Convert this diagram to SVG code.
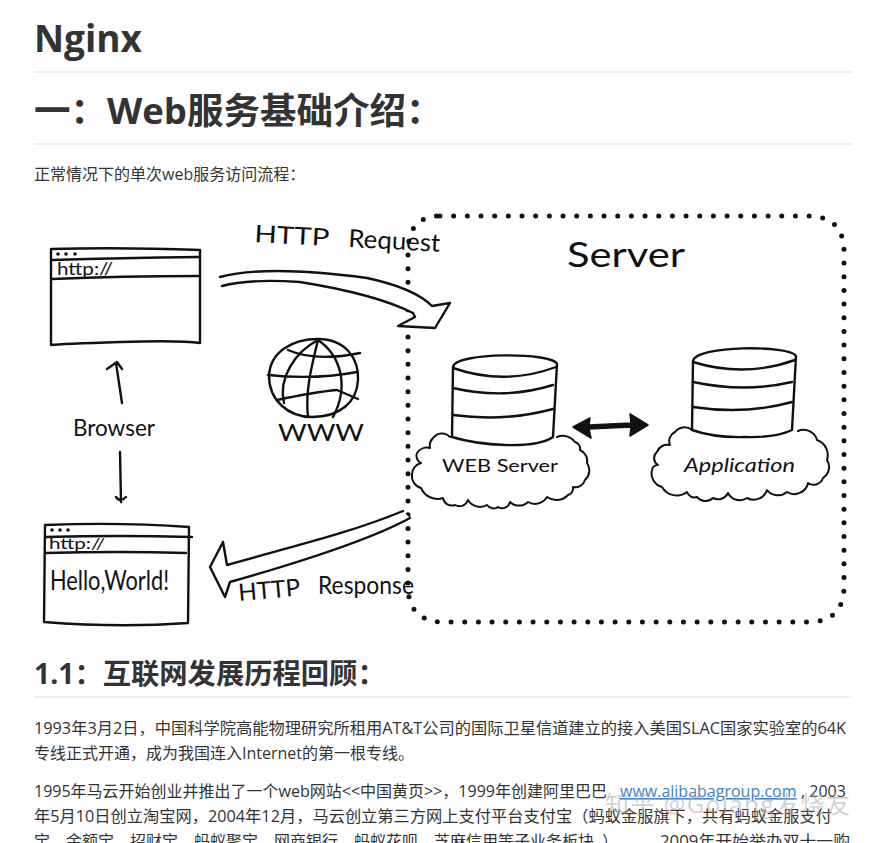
<svg xmlns="http://www.w3.org/2000/svg" width="871" height="843" viewBox="0 0 871 843">
<style>
.h{font-family:"Open Sans","Noto Sans CJK SC",sans-serif;font-weight:700;fill:#333}
.p{font-family:"Open Sans","Noto Sans CJK SC",sans-serif;font-size:16px;fill:#333}
.s{fill:none;stroke:#111;stroke-width:2.4;stroke-linecap:round;stroke-linejoin:round}
.w{fill:#fff;stroke:#111;stroke-width:2.4;stroke-linecap:round;stroke-linejoin:round}
.c{fill:#fff;stroke:#111;stroke-width:2;stroke-linecap:round;stroke-linejoin:round}
.hw{font-family:"Lato","Liberation Sans",sans-serif;fill:#111}
.rule{stroke:#eee;stroke-width:2}
</style>
<rect width="871" height="843" fill="#fff"/>
<g id="page-top">
<text class="h" x="34" y="52" font-size="37">Nginx</text>
<line class="rule" x1="34" y1="72" x2="852" y2="72"/>
<text class="h" x="34" y="124" font-size="36.5">一：Web服务基础介绍：</text>
<line class="rule" x1="34" y1="144" x2="852" y2="144"/>
<text class="p" x="34" y="180">正常情况下的单次web服务访问流程：</text>
</g>
<g id="server">
<path d="M440 216H808Q844 216 844 252V586Q844 622 808 622H444Q408 622 408 586V252Q408 216 440 216Z" fill="none" stroke="#111" stroke-width="5" stroke-linecap="round" stroke-dasharray="0 13.67"/>
<text class="hw" x="567" y="267" font-size="35" textLength="118" lengthAdjust="spacingAndGlyphs">Server</text>
</g>
<g id="browser-top">
<path class="s" d="M51 249Q120 247 200 250L200 343Q180 340 120 342T51 345Z"/>
<path class="s" d="M52 260Q120 258 199 257M52 279Q120 276 199 276"/>
<circle cx="58" cy="254" r="1.8" fill="#111"/><circle cx="66" cy="254" r="1.8" fill="#111"/><circle cx="75" cy="254" r="1.8" fill="#111"/>
<text class="hw" x="57" y="275" font-size="17" textLength="56" lengthAdjust="spacingAndGlyphs">http://</text>
</g>
<g id="browser-bottom">
<path class="s" d="M45 525Q120 522 189 527L188 623Q120 628 44 622Z"/>
<path class="s" d="M45 537Q120 535 192 537M45 553Q120 551 186 553"/>
<circle cx="52" cy="530" r="1.8" fill="#111"/><circle cx="60" cy="530" r="1.8" fill="#111"/><circle cx="68" cy="530" r="1.8" fill="#111"/>
<text class="hw" x="49" y="549" font-size="16" textLength="56" lengthAdjust="spacingAndGlyphs">http://</text>
<text class="hw" x="50" y="590" font-size="26" textLength="119" lengthAdjust="spacingAndGlyphs">Hello,World!</text>
</g>
<g id="browser-label">
<text class="hw" x="73" y="436" font-size="23" textLength="82" lengthAdjust="spacingAndGlyphs">Browser</text>
</g>
<g id="www">
<path class="s" d="M269 376C270 352 292 339 318 339C345 339 359 358 358 380C357 402 340 417 312 417C288 417 269 400 269 376Z"/>
<path class="s" d="M288 350Q315 362 360 353M268 375Q315 380 357 372M277 400Q315 392 337 390L358 399"/>
<path class="s" d="M318 340C295 352 278 378 284 403M318 340C312 365 305 390 308 417M318 340C340 355 350 385 333 417"/>
<text class="hw" x="278" y="441" font-size="24" textLength="86" lengthAdjust="spacingAndGlyphs">WWW</text>
</g>
<g id="web-server">
<path class="c" d="M450 437A11 11 0 0 0 433 438A11 11 0 0 0 430 448A12 12 0 0 0 417 453A8 8 0 0 0 421 463A12 12 0 0 0 412 475A12 12 0 0 0 421 488A18 18 0 0 0 443 498A9 9 0 0 0 455 505A9 9 0 0 0 468 500A14 14 0 0 0 487 505A8 8 0 0 0 498 507A8 8 0 0 0 510 502A13 13 0 0 0 528 502A14 14 0 0 0 547 497A16 16 0 0 0 568 495A7 7 0 0 0 573 487A10 10 0 0 0 585 480A13 13 0 0 0 587 463A12 12 0 0 0 580 450A7 7 0 0 0 575 442A15 15 0 0 0 557 437"/>
<path class="w" d="M452 437L453 367C455 352 552 352 557 364L553 437Q540 446 505 445Q475 444 452 437Z"/>
<path class="s" d="M453 368Q505 386 556 367M453 388Q505 400 553 385M453 415Q505 422 553 409"/>
<text class="hw" x="442" y="472" font-size="18" textLength="116" lengthAdjust="spacingAndGlyphs">WEB Server</text>
</g>
<g id="application">
<path class="c" d="M692 430A12 12 0 0 0 675 432A10 10 0 0 0 670 445A11 11 0 0 0 657 452A8 8 0 0 0 658 465A6 6 0 0 0 652 470A14 14 0 0 0 662 487A17 17 0 0 0 687 492A8 8 0 0 0 697 497A11 11 0 0 0 713 498A11 11 0 0 0 728 493A13 13 0 0 0 747 498A14 14 0 0 0 767 490A14 14 0 0 0 787 492A14 14 0 0 0 808 483A10 10 0 0 0 823 478A13 13 0 0 0 827 460A16 16 0 0 0 817 440A14 14 0 0 0 798 431"/>
<path class="w" d="M692 430L693 361C696 345 790 345 796 356L792 430Q775 438 745 437Q715 438 692 430Z"/>
<path class="s" d="M693 362Q745 378 795 360M693 382Q745 393 792 382M693 407Q745 415 792 402"/>
<text class="hw" x="684" y="472" font-size="20" font-style="italic" textLength="111" lengthAdjust="spacingAndGlyphs">Application</text>
</g>
<g id="connectors">
<path class="s" d="M122 403L116 363M107 369L117 362L122 369"/>
<path class="s" d="M120 452L121 502M116 497Q120 503 126 497"/>
<path class="w" d="M220 277C250 269 300 269 367 278C395 284 420 294 432 306L450 303L435 328L398 326L415 317L413 313C385 299 350 290 300 282C270 280 240 281 222 286"/>
<path class="w" d="M403 511C350 533 290 547 227 565L223 542L210 567L225 597L230 582C290 565 370 540 410 518"/>
<path d="M590 418L573 427L591 438L589 429L631 427L630 436L648 425L630 414L631 423L589 425Z" fill="#111" stroke="#111" stroke-width="1.5" stroke-linejoin="round"/>
<text class="hw" x="254" y="242" font-size="24" textLength="75" lengthAdjust="spacingAndGlyphs" transform="rotate(3 254 242)">HTTP</text>
<text class="hw" x="348" y="247" font-size="25" textLength="92" lengthAdjust="spacingAndGlyphs" transform="rotate(3 348 247)">Request</text>
<text class="hw" x="239" y="601" font-size="24" textLength="62" lengthAdjust="spacingAndGlyphs" transform="rotate(-5 239 601)">HTTP</text>
<text class="hw" x="318" y="594" font-size="25" textLength="96" lengthAdjust="spacingAndGlyphs">Response</text>
</g>
<g id="page-bottom">
<text class="h" x="34" y="684" font-size="28.3">1.1：互联网发展历程回顾：</text>
<line class="rule" x1="34" y1="697" x2="852" y2="697"/>
<text class="p" x="34" y="734" textLength="812" lengthAdjust="spacingAndGlyphs">1993年3月2日，中国科学院高能物理研究所租用AT&amp;T公司的国际卫星信道建立的接入美国SLAC国家实验室的64K</text>
<text class="p" x="34" y="759">专线正式开通，成为我国连入Internet的第一根专线。</text>
<text class="p" x="34" y="797">1995年马云开始创业并推出了一个web网站&lt;&lt;中国黄页&gt;&gt;，1999年创建阿里巴巴</text>
<text class="p" x="620" y="797" style="fill:#4183c4" text-decoration="underline">www.alibabagroup.com</text>
<text class="p" x="801" y="797">, 2003</text>
<text class="p" x="34" y="822" textLength="798" lengthAdjust="spacingAndGlyphs">年5月10日创立淘宝网，2004年12月，马云创立第三方网上支付平台支付宝（蚂蚁金服旗下，共有蚂蚁金服支付</text>
<text class="p" x="34" y="847" textLength="592" lengthAdjust="spacingAndGlyphs">宝、余额宝、招财宝、蚂蚁聚宝、网商银行、蚂蚁花呗、芝麻信用等子业务板块。）。</text>
<text class="p" x="660" y="847" textLength="190" lengthAdjust="spacingAndGlyphs">2009年开始举办双十一购</text>
<text x="605" y="813" font-family="'Open Sans','Noto Sans CJK SC',sans-serif" font-size="24" fill="#aaa" fill-opacity=".55" textLength="245">知乎 @Golang发烧友</text>
</g>
</svg>
